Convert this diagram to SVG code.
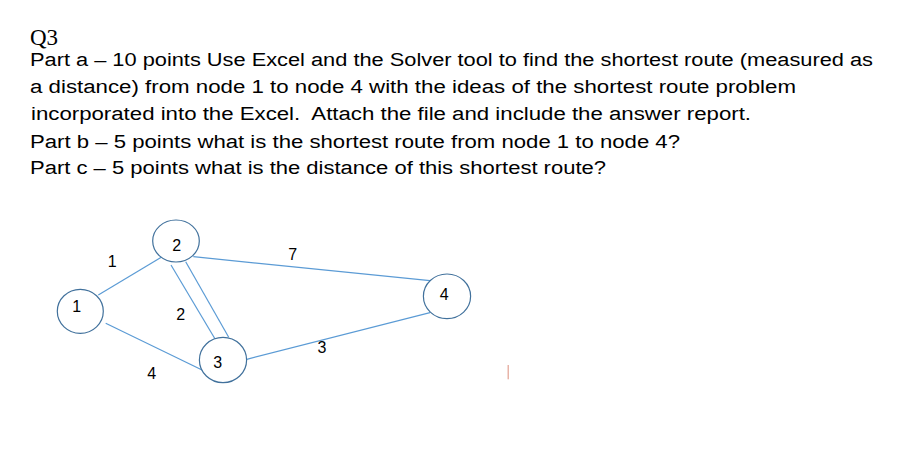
<svg xmlns="http://www.w3.org/2000/svg" width="904" height="474" viewBox="0 0 904 474">
<style>
.q{font-family:"Liberation Serif","Times New Roman",serif;font-size:23px;fill:#000}
.t{font-family:"Liberation Sans",Arial,sans-serif;font-size:18px;fill:#000;white-space:pre}
.n{font-family:"Liberation Sans",Arial,sans-serif;font-size:16px;fill:#000;text-anchor:middle}
.node{fill:#fff;stroke:#41719c;stroke-width:1.2}
.edge{stroke:#5b9bd5;stroke-width:1.2;fill:none}
</style>
<rect width="904" height="474" fill="#fff"/>
<g id="question">
<text class="q" x="30" y="45">Q3</text>
<text class="t" x="30" y="65.5" textLength="843" lengthAdjust="spacingAndGlyphs">Part a – 10 points Use Excel and the Solver tool to find the shortest route (measured as</text>
<text class="t" x="30" y="92.5" textLength="766" lengthAdjust="spacingAndGlyphs">a distance) from node 1 to node 4 with the ideas of the shortest route problem</text>
<text class="t" x="31" y="120" textLength="720" lengthAdjust="spacingAndGlyphs" xml:space="preserve">incorporated into the Excel.  Attach the file and include the answer report.</text>
<text class="t" x="30" y="147.5" textLength="650" lengthAdjust="spacingAndGlyphs">Part b – 5 points what is the shortest route from node 1 to node 4?</text>
<text class="t" x="30" y="173.5" textLength="576" lengthAdjust="spacingAndGlyphs">Part c – 5 points what is the distance of this shortest route?</text>
</g>
<g id="connectors">
<line class="edge" x1="98.3" y1="295" x2="166.7" y2="254"/>
<line class="edge" x1="105.7" y1="323.3" x2="206.7" y2="372.3"/>
<line class="edge" x1="171" y1="265" x2="216.7" y2="341.7"/>
<line class="edge" x1="185.7" y1="261.7" x2="228.7" y2="337.3"/>
<line class="edge" x1="193.3" y1="256.7" x2="430" y2="280.7"/>
<line class="edge" x1="246.7" y1="359.3" x2="430" y2="312.7"/>
<text class="n" x="112.3" y="266.5">1</text>
<text class="n" x="180.7" y="320">2</text>
<text class="n" x="151.7" y="379.3">4</text>
<text class="n" x="292.7" y="260">7</text>
<text class="n" x="322" y="353.3">3</text>
</g>
<g id="node1">
<ellipse class="node" cx="80.3" cy="311.3" rx="23" ry="22"/>
<text class="n" x="76.7" y="311.5">1</text>
</g>
<g id="node2">
<ellipse class="node" cx="176" cy="241" rx="23.3" ry="21"/>
<text class="n" x="176.7" y="250.7">2</text>
</g>
<g id="node3">
<ellipse class="node" cx="223" cy="360" rx="23.6" ry="22.7"/>
<text class="n" x="217.7" y="368.3">3</text>
</g>
<g id="node4">
<ellipse class="node" cx="447" cy="296.3" rx="23.6" ry="22.3"/>
<text class="n" x="444.3" y="300">4</text>
</g>
<rect x="507.5" y="365" width="1.5" height="14.3" fill="#e8b4a8"/>
</svg>
